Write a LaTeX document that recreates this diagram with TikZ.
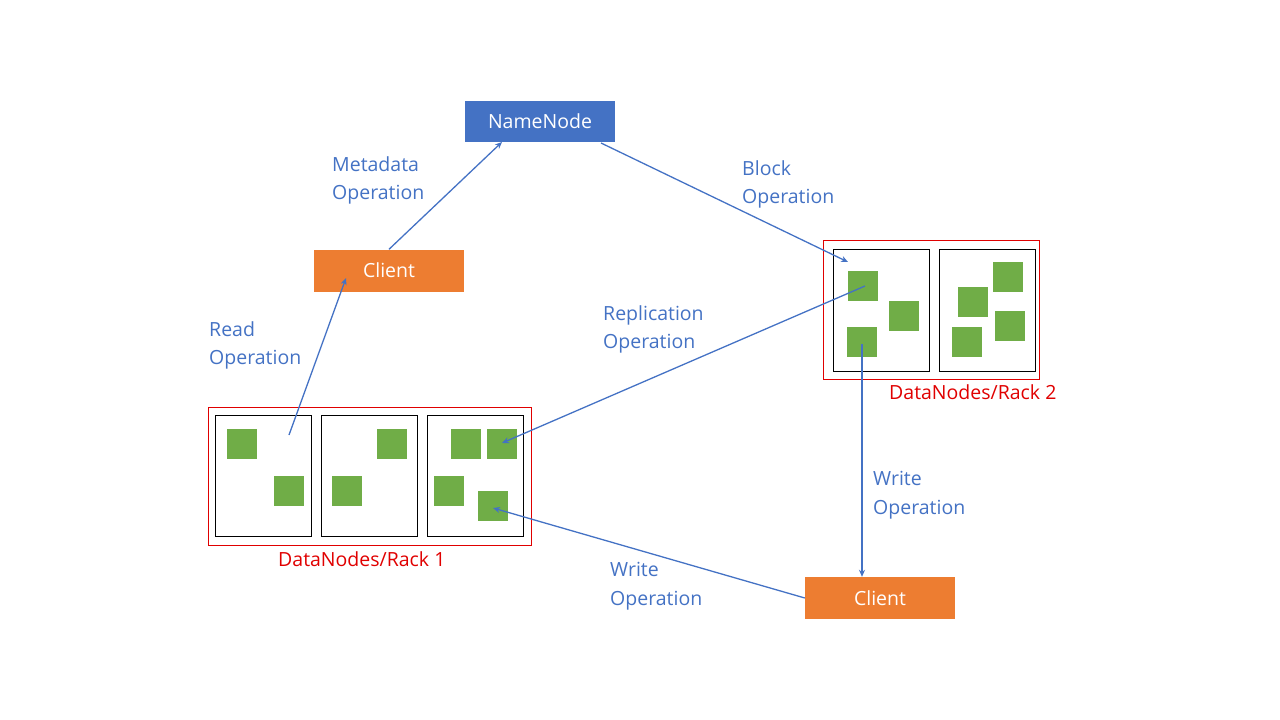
\documentclass[tikz,border=0pt]{standalone}
\usepackage{fontspec}
\setmainfont{Open Sans}
\usetikzlibrary{arrows.meta}
\definecolor{cblue}{HTML}{4472C4}
\definecolor{corange}{HTML}{ED7D31}
\definecolor{cgreen}{HTML}{70AD47}
\definecolor{cred}{HTML}{E00000}
\begin{document}
\begin{tikzpicture}[x=1pt,y=-1pt,
  box/.style={draw=none,minimum height=42pt,minimum width=150pt,inner sep=0pt,text=white,font=\fontsize{19.5}{22}\selectfont},
  lab/.style={anchor=north west,inner sep=0pt,align=left,text=cblue,font=\fontsize{19.5}{28.5}\selectfont},
  rlab/.style={anchor=north west,inner sep=0pt,text=cred,font=\fontsize{19.5}{22}\selectfont},
  arr/.style={draw=cblue,line width=1.3pt,-{Stealth[length=7pt,width=6pt]}},
  gsq/.style={fill=cgreen,draw=none,minimum size=30pt,inner sep=0pt,anchor=north west},
  dn/.style={draw=black,line width=0.8pt,anchor=north west,minimum width=96pt,minimum height=122pt,inner sep=0pt},
  rack/.style={draw=cred,line width=0.8pt}]
\useasboundingbox (0,0) rectangle (1280,720);
\node[box,fill=cblue,minimum height=41pt] (nn) at (540,121.5) {NameNode};
\node[box,fill=corange] (c1) at (389,270.5) {Client};
\node[box,fill=corange] (c2) at (880,598) {Client};
% rack 2
\draw[rack] (823,240) rectangle (1039,379);
\node[dn] (d21) at (833,249) {};
\node[dn] (d22) at (939,249) {};
\node[gsq] (g1) at (848,271) {};
\node[gsq] at (889,301) {};
\node[gsq] (g3) at (847,327) {};
\node[gsq] at (993,262) {};
\node[gsq] at (958,287) {};
\node[gsq] at (995,311) {};
\node[gsq] at (952,327) {};
% rack 1
\draw[rack] (208,407) rectangle (531,545);
\node[dn,minimum height=121pt] at (215,415) {};
\node[dn,minimum height=121pt] at (321,415) {};
\node[dn,minimum height=121pt] at (427,415) {};
\node[gsq] (r1) at (227,429) {};
\node[gsq] at (274,476) {};
\node[gsq] at (377,429) {};
\node[gsq] at (332,476) {};
\node[gsq] at (451,429) {};
\node[gsq] (r6) at (487,429) {};
\node[gsq] at (434,476) {};
\node[gsq] (r8) at (478,491) {};
\node[rlab] at (889,384) {DataNodes/Rack 2};
\node[rlab] at (278,551) {DataNodes/Rack 1};
% labels
\node[lab] at (332,156) {Metadata\\Operation};
\node[lab] at (742,160) {Block\\Operation};
\node[lab] at (603,305) {Replication\\Operation};
\node[lab] at (209,321) {Read\\Operation};
\node[lab] at (873,471) {Write\\Operation};
\node[lab] at (610,562) {Write\\Operation};
% arrows
\coordinate (rs) at (289,435);
\coordinate (rt) at (346,278);
\coordinate (bt) at (848,262);
\coordinate (gs) at (865,286);
\coordinate (ge) at (502,443);
\coordinate (ws) at (862,344);
\coordinate (we) at (493,508);
\draw[arr] (c1.north) -- (502,142);
\draw[arr] (601,143) -- (bt);
\draw[arr] (gs) -- (ge);
\draw[arr] (ws) -- (c2.north -| ws);
\draw[arr] (c2.west) -- (we);
\draw[arr] (rs) -- (rt);
\end{tikzpicture}
\end{document}
